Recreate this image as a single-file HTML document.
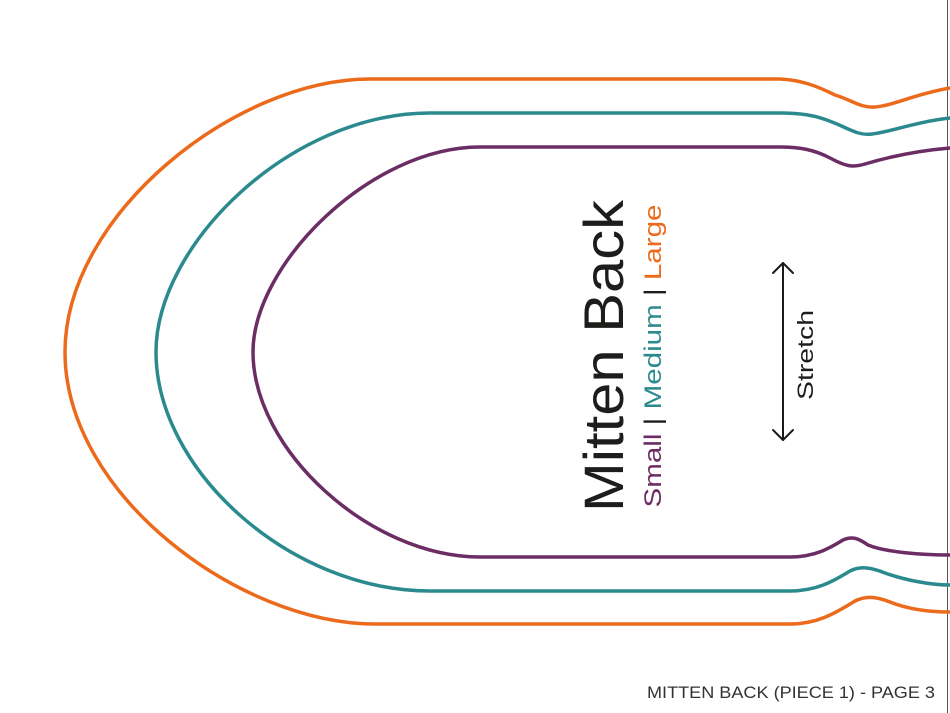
<!DOCTYPE html>
<html><head><meta charset="utf-8"><style>
html,body{margin:0;padding:0;background:#fff;}
body{width:950px;height:713px;overflow:hidden;position:relative;font-family:"Liberation Sans",sans-serif;}
</style></head><body>
<svg width="950" height="713" viewBox="0 0 950 713" xmlns="http://www.w3.org/2000/svg" style="position:absolute;left:0;top:0">
<line x1="947.5" y1="0" x2="947.5" y2="713" stroke="#555" stroke-width="1"/>
<g fill="none" stroke-width="3.5" stroke-linecap="round">
<path stroke="#ec6a1c" d="M950,88 C915,94 892,106 875,107 C860,108 852,100 835,95 C815,85 800,80 780,79 L370,79 C235,79 65,215 65,352 C65,495 240,624 375,624 L790,624 C820,624 840,610 855,601 C865,596 875,596 890,602 C910,610 930,612 950,612"/>
<path stroke="#2b8a8e" d="M950,118 C915,122 890,132 872,134 C858,136 848,128 832,122 C815,115 800,113 780,113 L430,113 C290,113 156,245 156,352 C156,470 290,591 430,591 L790,591 C820,591 838,578 850,571 C860,566 870,567 885,573 C905,580 930,585 950,585"/>
<path stroke="#6b2d63" d="M950,148 C915,151 885,158 865,164 C852,168 845,166 830,158 C815,150 800,147 780,147 L480,147 C370,147 253,265 253,352 C253,450 370,557 480,557 L790,557 C815,557 830,548 843,540 C852,536 858,538 868,545 C885,552 920,555 950,555"/>
</g>
<g stroke="#1a1a1a" stroke-width="2" fill="none" stroke-linecap="round" stroke-linejoin="round">
<line x1="783" y1="263" x2="783" y2="440"/>
<polyline points="773,273 783,263 793,273"/>
<polyline points="773,430 783,440 793,430"/>
</g>
<text transform="translate(623,356) rotate(-90)" text-anchor="middle" font-family="Liberation Sans, sans-serif" font-size="56" fill="#1d1d1b" textLength="312" lengthAdjust="spacingAndGlyphs">Mitten Back</text>
<text transform="translate(661,356) rotate(-90)" text-anchor="middle" font-family="Liberation Sans, sans-serif" font-size="24" textLength="303" lengthAdjust="spacingAndGlyphs"><tspan fill="#6b2d63">Small</tspan><tspan fill="#1d1d1b"> | </tspan><tspan fill="#2b8a8e">Medium</tspan><tspan fill="#1d1d1b"> | </tspan><tspan fill="#ec6a1c">Large</tspan></text>
<text transform="translate(813,355) rotate(-90)" text-anchor="middle" font-family="Liberation Sans, sans-serif" font-size="22" fill="#1d1d1b" textLength="90" lengthAdjust="spacingAndGlyphs">Stretch</text>
<text x="935" y="698" text-anchor="end" font-family="Liberation Sans, sans-serif" font-size="17" fill="#333" textLength="288" lengthAdjust="spacingAndGlyphs">MITTEN BACK (PIECE 1) - PAGE 3</text>
</svg>
</body></html>
